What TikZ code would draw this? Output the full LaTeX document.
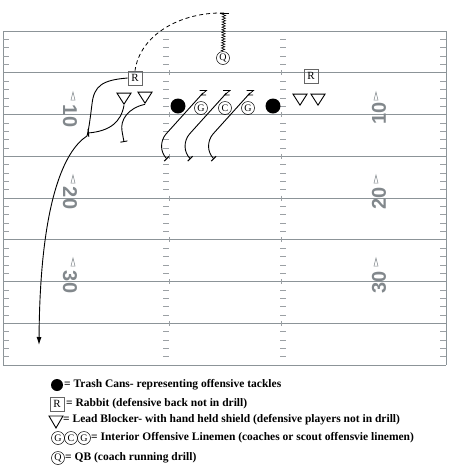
\documentclass[tikz,border=0pt]{standalone}
\usepackage{fontspec}
\usepackage{pdfrender}
\setmainfont{Liberation Serif}
\newfontfamily\numfont{Liberation Sans}
\usetikzlibrary{arrows.meta,decorations.pathmorphing,shapes.geometric}
\definecolor{fieldgray}{RGB}{140,148,152}
\definecolor{hashgray}{RGB}{155,160,164}
\definecolor{numgray}{RGB}{130,136,140}
\begin{document}
\begin{tikzpicture}[x=1pt,y=-1pt,
  fieldline/.style={draw=fieldgray,line width=0.8pt},
  hashmark/.style={draw=hashgray,line width=0.6pt},
  playpath/.style={draw=black,line width=0.9pt},
  lineman/.style={circle,draw=black,line width=0.5pt,minimum size=13pt,inner sep=0pt,font=\fontsize{10}{10}\selectfont},
  rabbit/.style={rectangle,draw=black!60,line width=0.6pt,minimum size=14pt,inner sep=0pt,font=\fontsize{11}{11}\selectfont},
  blocker/.style={isosceles triangle,isosceles triangle stretches,shape border rotate=-90,draw=black,line width=0.9pt,minimum height=11pt,minimum width=14pt,inner sep=0pt},
  can/.style={circle,fill=black,minimum size=15pt,inner sep=0pt},
  yardnum/.style={text=numgray,font=\numfont\bfseries\fontsize{20}{20}\selectfont,inner sep=0pt},
  dirmark/.style={draw=numgray,line width=0.5pt},
  legtext/.style={anchor=west,font=\bfseries\fontsize{11.5}{13}\selectfont,inner sep=0pt}
]
\useasboundingbox (0,0) rectangle (450,475);

% ---------- field ----------
\foreach \k in {0,...,8} {
  \draw[fieldline] (3,31+\k*41.75) -- (446,31+\k*41.75);
}
\draw[fieldline] (3,31) -- (3,365);
\draw[fieldline] (446,31) -- (446,365);
\foreach \k in {0,...,7} {
  \foreach \j in {1,...,4} {
    \pgfmathsetmacro{\yy}{31+\k*41.75+\j*8.35}
    \draw[hashmark] (3,\yy) -- (9,\yy);
    \draw[hashmark] (440,\yy) -- (446,\yy);
    \draw[hashmark] (163,\yy) -- (169,\yy);
    \draw[hashmark] (280,\yy) -- (286,\yy);
  }
}
\foreach \k in {1,...,7} {
  \draw[hashmark] (169,31+\k*41.75-2.5) -- (169,31+\k*41.75+2.5);
  \draw[hashmark] (281,31+\k*41.75-2.5) -- (281,31+\k*41.75+2.5);
}

% yard numbers (outlined)
\newcommand{\hollow}[1]{\pdfrender{TextRenderingMode=1,LineWidth=0.6pt,StrokeColor=numgray}#1}
\node[yardnum,rotate=-90] (n10l) at (70,116) {\hollow{10}};
\node[yardnum,rotate=-90] (n20l) at (70,198) {\hollow{20}};
\node[yardnum,rotate=-90] (n30l) at (70,282) {\hollow{30}};
\node[yardnum,rotate=90] (n10r) at (379,113) {\hollow{10}};
\node[yardnum,rotate=90] (n20r) at (379,198) {\hollow{20}};
\node[yardnum,rotate=90] (n30r) at (379,282) {\hollow{30}};
\foreach \x/\y in {73/92,73/175,73/258,376/92,376/175,376/258} {
  \draw[dirmark] (\x,\y) -- (\x+2,\y+8) -- (\x-2,\y+8) -- cycle;
}

% ---------- players ----------
\node[lineman] (Q) at (223,58) {Q};
\coordinate (qtop) at (224,13);
\draw[decorate,decoration={zigzag,amplitude=1.7pt,segment length=2.6pt},line width=0.6pt] (Q.north) -- (qtop);
\draw[line width=0.8pt] (qtop) +(-4.5,0) -- +(4.5,0);

\node[rabbit] (RL) at (135,78) {R};
\node[rabbit] (RR) at (311,76) {R};

\draw[line width=0.8pt,dash pattern=on 4pt off 3pt] (qtop) .. controls (180,12) and (140,35) .. (RL.north);

\node[blocker] (B1) at (124,97) {};
\node[blocker] (B2) at (145,96) {};
\node[blocker] (B3) at (300,98) {};
\node[blocker] (B4) at (318,98) {};

\node[can] (TL) at (178,106) {};
\node[can] (TR) at (273,106) {};

\node[lineman] (G1) at (201,108) {G};
\node[lineman] (C) at (225,108) {C};
\node[lineman] (G2) at (248,108) {G};

% lineman paths
\foreach \s [count=\i] in {0,23.5,47} {
  \coordinate (lb\i) at (167+\s,159);
  \coordinate (lt\i) at (203+\s,93);
  \draw[playpath,-{Bar[width=7pt]}] (lt\i) -- (166+\s,134) .. controls (160+\s,141) and (160+\s,152) .. (lb\i);
  \draw[line width=0.7pt] (199.5+\s,90.5) -- (206.5+\s,90.5) -- (201+\s,95) -- (206+\s,95);
}

% rabbit path (long arrow)
\coordinate (rend) at (39,345);
\draw[playpath,-{Latex[length=8pt,width=5pt]}] (RL.west) .. controls (102,80) and (94,86) .. (92,104) .. controls (90,120) and (89,128) .. (87,136) .. controls (65,150) and (40,200) .. (rend);

% lead blocker paths
\draw[playpath,-{Bar[width=8pt]}] (B1.apex) .. controls (121,122) and (110,131) .. (88,133);
\draw[playpath,-{Bar[width=7pt]}] (B2.apex) .. controls (128,108) and (120,120) .. (122,131) -- (124,142);

% ---------- legend ----------
\node[can,minimum size=12pt] (lg1) at (57,385) {};
\node[legtext] (lt1) at (64,385) {= Trash Cans- representing offensive tackles};
\node[rabbit] (lg2) at (57,404) {R};
\node[legtext] (lt2) at (66,404) {= Rabbit (defensive back not in drill)};
\node[blocker,minimum height=12pt,minimum width=14pt] (lg3) at (56,420) {};
\node[legtext] (lt3) at (63,420) {= Lead Blocker- with hand held shield (defensive players not in drill)};
\node[lineman] (lg4a) at (58,438) {G};
\node[lineman] (lg4b) at (71,438) {C};
\node[lineman] (lg4c) at (84,438) {G};
\node[legtext] (lt4) at (91,438) {= Interior Offensive Linemen (coaches or scout offensvie linemen)};
\node[lineman] (lg5) at (58,458) {Q};
\node[legtext] (lt5) at (65,458) {= QB (coach running drill)};
\end{tikzpicture}
\end{document}
